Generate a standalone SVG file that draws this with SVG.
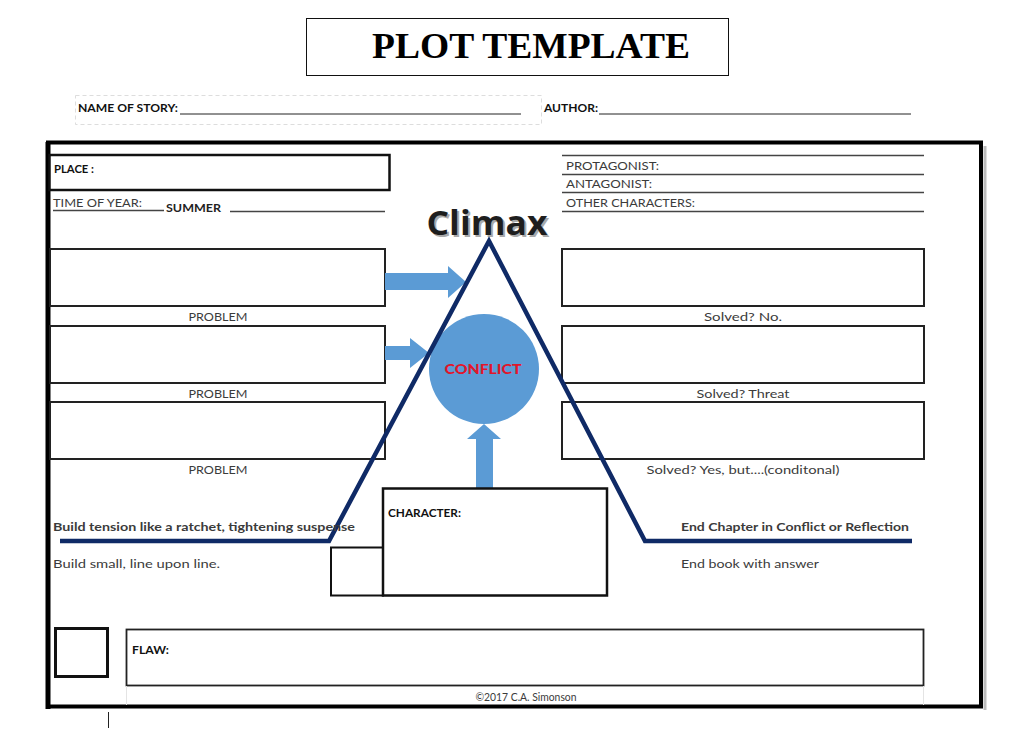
<svg xmlns="http://www.w3.org/2000/svg" width="1014" height="731" viewBox="0 0 1014 731">
<style>
.lbl{font-family:Lato,"Open Sans",sans-serif;fill:#3b3b3b;font-size:12px}
.b{font-weight:bold}
.box{fill:#fff;stroke:#222;stroke-width:2}
.rule{stroke:#444;stroke-width:1.3}
.blue{fill:#5b9bd5}
</style>
<rect width="1014" height="731" fill="#fff"/>
<g id="title">
<rect x="306.5" y="18.5" width="422" height="57" fill="#fff" stroke="#111" stroke-width="1"/>
<text x="531" y="58" text-anchor="middle" font-family="Liberation Serif,serif" font-weight="bold" font-size="36" fill="#000" textLength="318" lengthAdjust="spacingAndGlyphs">PLOT TEMPLATE</text>
</g>
<g id="header">
<rect x="75.5" y="95.5" width="466" height="29" fill="none" stroke="#ddd" stroke-dasharray="4,3"/>
<text x="78" y="112" class="lbl b" style="fill:#111" font-size="11.5" textLength="100" lengthAdjust="spacingAndGlyphs">NAME OF STORY:</text>
<line x1="180" y1="114" x2="521" y2="114" stroke="#222" stroke-width="1"/>
<text x="544" y="112" class="lbl b" style="fill:#111" font-size="11.5" textLength="54" lengthAdjust="spacingAndGlyphs">AUTHOR:</text>
<line x1="599" y1="114" x2="911" y2="114" stroke="#222" stroke-width="1"/>
</g>
<g id="frame">
<line x1="985" y1="146" x2="985" y2="710" stroke="#bbb" stroke-width="3"/>
<rect x="48" y="142.5" width="933" height="564" fill="none" stroke="#000" stroke-width="4"/>
<line x1="48" y1="142" x2="48" y2="709" stroke="#000" stroke-width="5"/>
</g>
<g id="place">
<rect x="49.5" y="155" width="340" height="35" fill="#fff" stroke="#111" stroke-width="2.5"/>
<text x="54" y="173" class="lbl b" style="fill:#111" font-size="11.5" textLength="40" lengthAdjust="spacingAndGlyphs">PLACE :</text>
</g>
<g id="time">
<text x="53" y="207" class="lbl" font-size="11.5" textLength="89" lengthAdjust="spacingAndGlyphs">TIME OF YEAR:</text>
<line x1="53" y1="210.5" x2="164" y2="210.5" class="rule"/>
<text x="166" y="212" class="lbl b" style="fill:#222" font-size="12" textLength="55" lengthAdjust="spacingAndGlyphs">SUMMER</text>
<line x1="230" y1="211.5" x2="385" y2="211.5" class="rule"/>
</g>
<g id="characters">
<line x1="562" y1="155.5" x2="924" y2="155.5" class="rule"/>
<line x1="562" y1="174.5" x2="924" y2="174.5" class="rule"/>
<line x1="562" y1="192.5" x2="924" y2="192.5" class="rule"/>
<line x1="562" y1="211.5" x2="924" y2="211.5" class="rule"/>
<text x="566" y="170" class="lbl" font-size="11.5" textLength="93" lengthAdjust="spacingAndGlyphs">PROTAGONIST:</text>
<text x="566" y="188" class="lbl" font-size="11.5" textLength="86" lengthAdjust="spacingAndGlyphs">ANTAGONIST:</text>
<text x="566" y="207" class="lbl" font-size="11.5" textLength="129" lengthAdjust="spacingAndGlyphs">OTHER CHARACTERS:</text>
</g>
<g id="climax">
<text x="489" y="237" text-anchor="middle" font-family="Open Sans,Lato,sans-serif" font-weight="bold" font-size="34" fill="#aaa" textLength="121" lengthAdjust="spacingAndGlyphs">Climax</text>
<text x="487" y="235" text-anchor="middle" font-family="Open Sans,Lato,sans-serif" font-weight="bold" font-size="34" fill="#1e1e1e" textLength="121" lengthAdjust="spacingAndGlyphs">Climax</text>
</g>
<g id="problems">
<rect x="50" y="249" width="335" height="57" class="box"/>
<rect x="50" y="326" width="335" height="57" class="box"/>
<rect x="50" y="402" width="335" height="57" class="box"/>
<text x="218" y="321" text-anchor="middle" class="lbl" font-size="11.5" textLength="59" lengthAdjust="spacingAndGlyphs">PROBLEM</text>
<text x="218" y="398" text-anchor="middle" class="lbl" font-size="11.5" textLength="59" lengthAdjust="spacingAndGlyphs">PROBLEM</text>
<text x="218" y="474" text-anchor="middle" class="lbl" font-size="11.5" textLength="59" lengthAdjust="spacingAndGlyphs">PROBLEM</text>
</g>
<g id="solved">
<rect x="562" y="249" width="362" height="57" class="box"/>
<rect x="562" y="326" width="362" height="57" class="box"/>
<rect x="562" y="402" width="362" height="57" class="box"/>
<text x="743" y="321" text-anchor="middle" class="lbl" font-size="12" textLength="78" lengthAdjust="spacingAndGlyphs">Solved?  No.</text>
<text x="743" y="398" text-anchor="middle" class="lbl" font-size="12" textLength="93" lengthAdjust="spacingAndGlyphs">Solved? Threat</text>
<text x="743" y="474" text-anchor="middle" class="lbl" font-size="12" textLength="193" lengthAdjust="spacingAndGlyphs">Solved? Yes, but....(conditonal)</text>
</g>
<g id="conflict">
<circle cx="484" cy="369" r="55" fill="#5b9bd5"/>
<text x="483" y="374" text-anchor="middle" font-family="Lato,sans-serif" font-weight="900" font-size="14" fill="#e0162b" textLength="77" lengthAdjust="spacingAndGlyphs">CONFLICT</text>
</g>
<g id="connectors">
<polygon class="blue" points="385,273 448,273 448,266 466,282 448,298 448,290 385,290"/>
<polygon class="blue" points="385,346 410,346 410,338 429,353 410,368 410,360 385,360"/>
<polygon class="blue" points="476,488 476,439 467,439 484,424 501,439 493,439 493,488"/>
<polyline points="60,541 329,541 489,241 645,541 912,541" fill="none" stroke="#0f2a66" stroke-width="4.5" stroke-linejoin="miter"/>
</g>
<g id="tension">
<text x="53" y="531" class="lbl b" font-size="12.5" textLength="302" lengthAdjust="spacingAndGlyphs">Build tension like a ratchet, tightening suspense</text>
<text x="53" y="568" class="lbl" font-size="12.5" textLength="167" lengthAdjust="spacingAndGlyphs">Build small, line upon line.</text>
</g>
<g id="ending">
<text x="681" y="531" class="lbl b" font-size="12.5" textLength="228" lengthAdjust="spacingAndGlyphs">End Chapter in Conflict or Reflection</text>
<text x="681" y="568" class="lbl" font-size="12.5" textLength="138" lengthAdjust="spacingAndGlyphs">End book with answer</text>
</g>
<g id="character">
<rect x="331" y="547.5" width="52" height="48" fill="#fff" stroke="#111" stroke-width="2"/>
<rect x="383" y="488.5" width="224" height="107" fill="#fff" stroke="#111" stroke-width="2.5"/>
<text x="388" y="517" class="lbl b" style="fill:#111" font-size="11.5" textLength="73" lengthAdjust="spacingAndGlyphs">CHARACTER:</text>
</g>
<g id="flaw">
<rect x="55.5" y="628.5" width="52" height="48" fill="#fff" stroke="#111" stroke-width="3"/>
<rect x="126.5" y="629.5" width="797" height="56" fill="#fff" stroke="#222" stroke-width="1.8"/>
<text x="132" y="654" class="lbl b" style="fill:#111" font-size="11.5" textLength="37" lengthAdjust="spacingAndGlyphs">FLAW:</text>
<line x1="126.5" y1="686" x2="126.5" y2="705" stroke="#e4e4e4"/>
<line x1="923.5" y1="686" x2="923.5" y2="705" stroke="#e4e4e4"/>
<text x="526" y="701" text-anchor="middle" class="lbl" font-size="9" textLength="101" lengthAdjust="spacingAndGlyphs">©2017 C.A. Simonson</text>
</g>
<line x1="108.5" y1="712" x2="108.5" y2="728" stroke="#222" stroke-width="1"/>
</svg>
